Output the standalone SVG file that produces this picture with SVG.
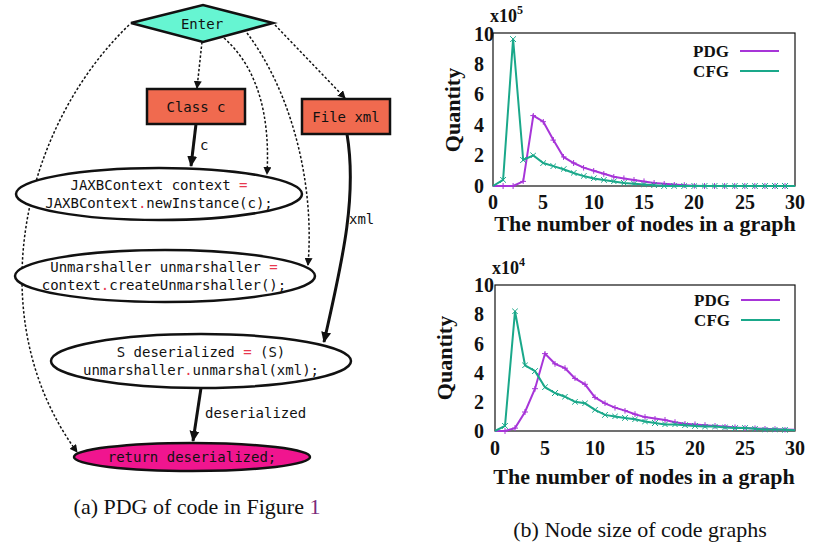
<svg xmlns="http://www.w3.org/2000/svg" width="814" height="548" viewBox="0 0 814 548">
<style>
.m{font-family:"DejaVu Sans Mono",monospace;font-size:14px;fill:#111}
.r{fill:#e8384f}
.d{fill:none;stroke:#111;stroke-width:1.5;stroke-dasharray:2.5,2}
.s{fill:none;stroke:#111;stroke-width:3}
.b{font-family:"Liberation Serif",serif;font-weight:bold;fill:#111}
.t{font-family:"Liberation Serif",serif;font-size:22px;fill:#111}
.ax{fill:none;stroke:#111;stroke-width:1.2}
.p{fill:none;stroke:#a735d8;stroke-width:2}
.c{fill:none;stroke:#1aa88a;stroke-width:2}
</style>
<defs>
<marker id="ah" markerWidth="8" markerHeight="8" refX="7" refY="4" orient="auto" markerUnits="userSpaceOnUse"><path d="M0,0 L8,4 L0,8 Z" fill="#111"/></marker>
<marker id="ahs" markerWidth="12" markerHeight="12" refX="10" refY="6" orient="auto" markerUnits="userSpaceOnUse"><path d="M0,1 L11,6 L0,11 Z" fill="#111"/></marker>
<marker id="mp" markerWidth="6" markerHeight="6" refX="3" refY="3" markerUnits="userSpaceOnUse"><path d="M0,3H6M3,0V6" stroke="#a735d8" stroke-width="1"/></marker>
<marker id="mc" markerWidth="6" markerHeight="6" refX="3" refY="3" markerUnits="userSpaceOnUse"><path d="M0,0L6,6M6,0L0,6" stroke="#1aa88a" stroke-width="1"/></marker>
</defs>
<rect width="814" height="548" fill="#fff"/>
<g id="connectors">
<path class="d" d="M202,42 L197,88" marker-end="url(#ah)"/>
<path class="d" d="M224,38 C260,70 270,120 267,174" marker-end="url(#ah)"/>
<path class="d" d="M247,33 C290,90 315,180 308,265" marker-end="url(#ah)"/>
<path class="d" d="M275,25 L345,98" marker-end="url(#ah)"/>
<path class="d" d="M129,25 C20,130 -20,320 77,452" marker-end="url(#ah)"/>
<path class="s" d="M196,124 L191,166" marker-end="url(#ahs)"/>
<path class="s" d="M347,134 C358,200 340,270 324,342" marker-end="url(#ahs)"/>
<path class="s" d="M201,388 L193,441" marker-end="url(#ahs)"/>
<text class="m" x="200" y="150">c</text>
<text class="m" x="349" y="224">xml</text>
<text class="m" x="205" y="418">deserialized</text>
</g>
<g id="enter"><polygon points="131,23 203,5 273,23 203,42" fill="#66f5d2" stroke="#111" stroke-width="2.5"/><text class="m" x="202" y="29" text-anchor="middle" font-size="15">Enter</text></g>
<g id="classc"><rect x="147" y="89" width="98" height="35" fill="#f06a4f" stroke="#111" stroke-width="2.5"/><text class="m" x="196" y="112" text-anchor="middle">Class c</text></g>
<g id="filexml"><rect x="302" y="99" width="88" height="35" fill="#f06a4f" stroke="#111" stroke-width="2.5"/><text class="m" x="346" y="122" text-anchor="middle">File xml</text></g>
<g id="n1"><ellipse cx="159" cy="194" rx="143" ry="26" fill="#fff" stroke="#111" stroke-width="2.5"/><text class="m" x="159" y="190" text-anchor="middle">JAXBContext context <tspan class="r">=</tspan></text><text class="m" x="159" y="208" text-anchor="middle">JAXBContext<tspan class="r">.</tspan>newInstance(c);</text></g>
<g id="n2"><ellipse cx="165" cy="276" rx="150" ry="26" fill="#fff" stroke="#111" stroke-width="2.5"/><text class="m" x="164" y="272" text-anchor="middle">Unmarshaller unmarshaller <tspan class="r">=</tspan></text><text class="m" x="164" y="290" text-anchor="middle">context<tspan class="r">.</tspan>createUnmarshaller();</text></g>
<g id="n3"><ellipse cx="201" cy="361" rx="150" ry="27" fill="#fff" stroke="#111" stroke-width="2.5"/><text class="m" x="201" y="357" text-anchor="middle">S deserialized <tspan class="r">=</tspan> (S)</text><text class="m" x="201" y="375" text-anchor="middle">unmarshaller<tspan class="r">.</tspan>unmarshal(xml);</text></g>
<g id="ret"><ellipse cx="192" cy="457" rx="118" ry="14" fill="#f0158f" stroke="#111" stroke-width="2.5"/><text class="m" x="192" y="462" text-anchor="middle">return deserialized;</text></g>
<text class="t" x="197" y="514" text-anchor="middle">(a)  PDG of code in Figure <tspan fill="#7a2a7a">1</tspan></text>

<g id="chart1">
<rect class="ax" x="493" y="33" width="302" height="153"/>
<g class="b" font-size="20" text-anchor="end"><text x="484" y="193">0</text><text x="484" y="162">2</text><text x="484" y="132">4</text><text x="484" y="101">6</text><text x="484" y="71">8</text><text x="494" y="41">10</text></g>
<g class="b" font-size="20" text-anchor="middle"><text x="493" y="209">0</text><text x="543" y="209">5</text><text x="594" y="209">10</text><text x="644" y="209">15</text><text x="694" y="209">20</text><text x="745" y="209">25</text><text x="795" y="209">30</text></g>
<text class="b" font-size="18" x="490" y="22">x10<tspan font-size="12" dy="-8">5</tspan></text>
<text class="b" font-size="22" x="645" y="231" text-anchor="middle">The number of nodes in a graph</text>
<text class="b" font-size="22" transform="translate(460,110) rotate(-90)" text-anchor="middle">Quantity</text>
<text class="b" font-size="17" x="729" y="57" text-anchor="end">PDG</text>
<text class="b" font-size="17" x="729" y="77" text-anchor="end">CFG</text>
<path class="p" d="M740,51H779"/><path class="c" d="M740,71H779"/>
<polyline class="p" marker-mid="url(#mp)" points="493,186 503.1,186 513.1,186 523.2,181.4 533.3,115.6 543.3,121.7 553.4,140.1 563.5,156.9 573.6,163 583.6,167.6 593.7,170.7 603.8,173.8 613.8,176.8 623.9,178.4 634,179.9 644,181.4 654.1,182.9 664.2,183.7 674.3,184.5 684.3,185.2 694.4,185.7 704.5,186 714.5,186 724.6,186 734.7,186 744.8,186 754.8,186 764.9,186 775,186 785,186 795,186"/>
<polyline class="c" marker-mid="url(#mc)" points="493,186 503.1,179.9 513.1,39.1 523.2,160 533.3,155.4 543.3,163 553.4,166.1 563.5,169.2 573.6,173 583.6,176.1 593.7,178.4 603.8,179.9 613.8,181.4 623.9,182.9 634,183.7 644,184.5 654.1,185.2 664.2,186 674.3,186 684.3,186 694.4,186 704.5,186 714.5,186 724.6,186 734.7,186 744.8,186 754.8,186 764.9,186 775,186 785,186 795,186"/>
</g>

<g id="chart2">
<rect class="ax" x="495" y="285" width="300" height="146"/>
<g class="b" font-size="20" text-anchor="end"><text x="484" y="438">0</text><text x="484" y="409">2</text><text x="484" y="380">4</text><text x="484" y="351">6</text><text x="484" y="321">8</text><text x="494" y="292">10</text></g>
<g class="b" font-size="20" text-anchor="middle"><text x="495" y="455">0</text><text x="545" y="455">5</text><text x="595" y="455">10</text><text x="645" y="455">15</text><text x="695" y="455">20</text><text x="745" y="455">25</text><text x="795" y="455">30</text></g>
<text class="b" font-size="18" x="492" y="274">x10<tspan font-size="12" dy="-8">4</tspan></text>
<text class="b" font-size="22" x="644" y="484" text-anchor="middle">The number of nodes in a graph</text>
<text class="b" font-size="22" transform="translate(452,358) rotate(-90)" text-anchor="middle">Quantity</text>
<text class="b" font-size="17" x="730" y="306" text-anchor="end">PDG</text>
<text class="b" font-size="17" x="730" y="326" text-anchor="end">CFG</text>
<path class="p" d="M741,300H780"/><path class="c" d="M741,320H780"/>
<polyline class="p" marker-mid="url(#mp)" points="495,431 505,431 515,428.1 525,412 535,388.7 545,353.6 555,363.8 565,368.2 575,378.4 585,384.3 595,397.4 605,403.3 615,407.6 625,410.6 635,414.2 645,417.1 655,418.6 665,420 675,422.2 685,423.7 695,424.4 705,425.2 715,425.9 725,426.6 735,427.4 745,428.1 755,428.4 765,428.8 775,429.2 785,429.5 795,429.8"/>
<polyline class="c" marker-mid="url(#mc)" points="495,431 505,425.9 515,311.3 525,365.3 535,371.1 545,387.2 555,393 565,396.7 575,401.8 585,403.3 595,409.8 605,414.9 615,416.4 625,417.9 635,419.3 645,421.5 655,423 665,424.4 675,424.4 685,425.2 695,425.9 705,426.6 715,426.6 725,427.4 735,428.1 745,428.1 755,428.8 765,429.5 775,429.5 785,429.8 795,430.3"/>
</g>
<text class="t" x="640" y="537" text-anchor="middle">(b)  Node size of code graphs</text>
</svg>
